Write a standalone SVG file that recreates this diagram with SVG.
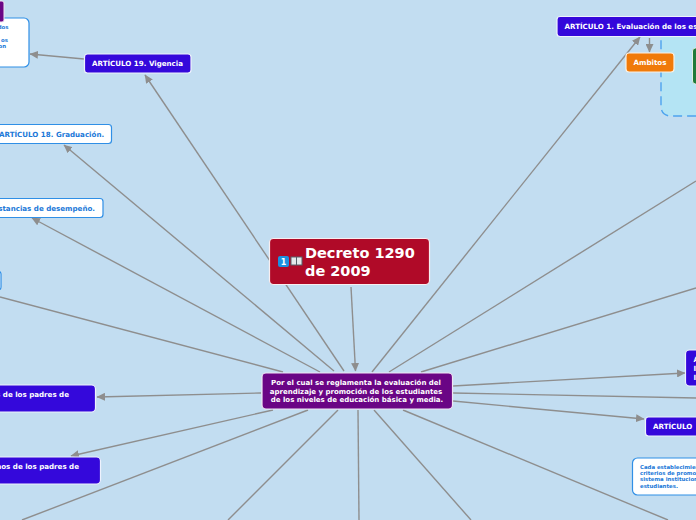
<svg xmlns="http://www.w3.org/2000/svg" width="696" height="520" viewBox="0 0 696 520">
<defs>
<marker id="arr" markerWidth="9" markerHeight="8" refX="8" refY="4" orient="auto" markerUnits="userSpaceOnUse"><path d="M0 0L8.5 4L0 8z" fill="#8e8e8e"/></marker>
</defs>
<style>
text{font-family:"DejaVu Sans",Verdana,sans-serif;font-weight:bold}
.ln{stroke:#8e8e8e;stroke-width:1.4;fill:none}
.a{marker-end:url(#arr)}
.blue{fill:#3408db;stroke:#eef2fd;stroke-width:1.2}
.wh{fill:#fff;stroke:#2f8fe6;stroke-width:1.2}
.tw{fill:#fff;font-size:7.1px}
.tb{fill:#1b78d8;font-size:7.1px}
.ts{fill:#1b78d8;font-size:5.4px}
.tp{fill:#fff;font-size:7px;text-anchor:middle}
</style>
<rect width="696" height="520" fill="#c2ddf1"/>
<g id="connectors">
<line class="ln a" x1="351" y1="287" x2="355.500" y2="371"/>
<line class="ln a" x1="344" y1="371" x2="145" y2="75"/>
<line class="ln a" x1="334" y1="371" x2="64" y2="145"/>
<line class="ln a" x1="320" y1="372" x2="32" y2="218"/>
<line class="ln" x1="283" y1="372" x2="0" y2="297"/>
<line class="ln a" x1="261" y1="393" x2="97" y2="397"/>
<line class="ln a" x1="273" y1="410" x2="71" y2="456"/>
<line class="ln" x1="308" y1="410" x2="22" y2="520"/>
<line class="ln" x1="338" y1="410" x2="228" y2="520"/>
<line class="ln" x1="358" y1="410" x2="359" y2="520"/>
<line class="ln" x1="374" y1="410" x2="471" y2="520"/>
<line class="ln" x1="403" y1="410" x2="668" y2="520"/>
<line class="ln a" x1="453" y1="401" x2="644" y2="419"/>
<line class="ln" x1="453" y1="393" x2="696" y2="398"/>
<line class="ln a" x1="453" y1="386" x2="685" y2="373"/>
<line class="ln" x1="421" y1="372" x2="696" y2="288"/>
<line class="ln" x1="389" y1="372" x2="696" y2="181"/>
<line class="ln a" x1="372" y1="372" x2="640" y2="37"/>
<line class="ln a" x1="84" y1="59" x2="30" y2="54"/>
<line class="ln a" x1="649.500" y1="38" x2="649.500" y2="52"/>
<line class="ln a" x1="675" y1="64" x2="691" y2="65"/>
</g>
<g id="group-ambitos"><rect x="661" y="30" width="60" height="86" rx="9" fill="#b4e4f4" stroke="#4da3ee" stroke-width="1.4" stroke-dasharray="9 5"/></g>
<g id="node-root"><rect x="269.500" y="238.500" width="160" height="46" rx="4" fill="#b00a28" stroke="#f8eef0" stroke-width="1.2"/>
<rect x="278" y="256" width="11" height="11" rx="2" fill="#1c8fe0"/><text x="283.500" y="265" text-anchor="middle" style="font-size:8px" fill="#fff">1</text>
<rect x="291" y="257" width="11" height="8" fill="#e4e8ea" stroke="#56606a" stroke-width="1"/><line x1="296.500" y1="257" x2="296.500" y2="265" stroke="#56606a"/>
<text x="305" y="258" fill="#fff" style="font-size:14.500px">Decreto 1290</text><text x="305" y="276" fill="#fff" style="font-size:14.500px">de 2009</text></g>
<g id="node-center"><rect x="262" y="373" width="190.500" height="36" rx="4" fill="#6a0585" stroke="#f0e6f3" stroke-width="1.2"/>
<text class="tp" x="356" y="385">Por el cual se reglamenta la evaluación del</text>
<text class="tp" x="356" y="393.500">aprendizaje y promoción de los estudiantes</text>
<text class="tp" x="357" y="402">de los niveles de educación básica y media.</text></g>
<g id="node-a19"><rect class="blue" x="84.500" y="54" width="106.500" height="19" rx="3"/><text class="tw" x="92" y="66">ARTÍCULO 19. Vigencia</text></g>
<g id="node-a19-sub"><rect class="wh" x="-20" y="18" width="49" height="49" rx="5"/>
<text class="ts" x="8.500" y="29" text-anchor="end">dos</text><text class="ts" x="8" y="42" text-anchor="end">os</text><text class="ts" x="6" y="48" text-anchor="end">on</text>
<rect x="-20" y="1" width="24" height="21" rx="2" fill="#6a0585" stroke="#f0e6f3"/></g>
<g id="node-a18"><rect class="wh" x="-20" y="124.500" width="131.500" height="19" rx="3"/><text class="tb" x="-1" y="137">ARTÍCULO 18. Graduación.</text></g>
<g id="node-instancias"><rect class="wh" x="-60" y="198.500" width="163" height="19" rx="3"/><text class="tb" x="95" y="211" text-anchor="end">stancias de desempeño.</text></g>
<g id="node-left3"><rect class="wh" x="-30" y="271" width="31" height="19" rx="3"/></g>
<g id="node-padres1"><rect class="blue" x="-30" y="385" width="125.500" height="27" rx="4"/><text class="tw" x="69" y="397" text-anchor="end">s de los padres de</text></g>
<g id="node-padres2"><rect class="blue" x="-30" y="457" width="130.500" height="27" rx="4"/><text class="tw" x="79" y="469" text-anchor="end">hos de los padres de</text></g>
<g id="node-a1"><rect class="blue" x="557" y="16.500" width="160" height="20" rx="3"/><text class="tw" x="564.500" y="29">ARTÍCULO 1. Evaluación de los es</text></g>
<g id="node-ambitos"><rect x="626" y="53" width="48" height="19" rx="3" fill="#f07a0a" stroke="#fbf0e2" stroke-width="1.2"/><text class="tw" x="633.500" y="65">Ambitos</text></g>
<g id="node-green"><rect x="692.500" y="48" width="30" height="36" rx="3" fill="#1f7a3a" stroke="#e0efe4"/></g>
<g id="node-a-right"><rect class="blue" x="685.500" y="350" width="30" height="36" rx="4"/><text class="tw" x="693.500" y="362">A</text><text class="tw" x="693.500" y="371">I</text><text class="tw" x="693.500" y="380">I</text></g>
<g id="node-a-low"><rect class="blue" x="645.500" y="417" width="70" height="19" rx="3"/><text class="tw" x="653" y="429">ARTÍCULO</text></g>
<g id="node-cada"><rect class="wh" x="632.500" y="458" width="90" height="37" rx="5"/>
<text class="ts" x="640" y="469">Cada establecimiento</text><text class="ts" x="640" y="475">criterios de promoción</text><text class="ts" x="640" y="481">sistema institucional</text><text class="ts" x="640" y="488">estudiantes.</text></g>
</svg>
